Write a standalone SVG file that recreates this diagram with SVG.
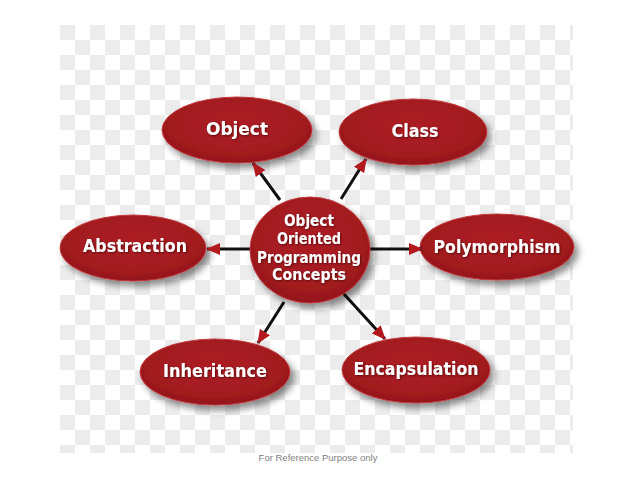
<svg xmlns="http://www.w3.org/2000/svg" width="638" height="478" viewBox="0 0 638 478">
  <defs>
    <pattern id="checker" patternUnits="userSpaceOnUse" x="60" y="25" width="30" height="30">
      <rect width="30" height="30" fill="#ffffff"/>
      <rect width="15" height="15" fill="#ececec"/>
      <rect x="15" y="15" width="15" height="15" fill="#ececec"/>
    </pattern>
    <radialGradient id="redfill" cx="0.5" cy="0.42" r="0.6">
      <stop offset="0" stop-color="#ad1f23"/>
      <stop offset="0.75" stop-color="#a21b1f"/>
      <stop offset="1" stop-color="#8e1418"/>
    </radialGradient>
    <filter id="shadow" x="-20%" y="-30%" width="150%" height="170%">
      <feDropShadow dx="4" dy="5" stdDeviation="3.5" flood-color="#000" flood-opacity="0.45"/>
    </filter>
    <filter id="tshadow" x="-10%" y="-30%" width="130%" height="170%">
      <feDropShadow dx="1" dy="1" stdDeviation="0.8" flood-color="#3a0000" flood-opacity="0.7"/>
    </filter>
    <marker id="arrow" markerUnits="userSpaceOnUse" markerWidth="14" markerHeight="12" refX="13" refY="6" orient="auto">
      <path d="M0,0 L14,6 L0,12 Z" fill="#b3181d"/>
    </marker>
  </defs>
  <style>
    .node { fill: url(#redfill); stroke: #c2383c; stroke-width: 1; filter: url(#shadow); }
    .label { font-family: "DejaVu Sans", "Liberation Sans", sans-serif; font-weight: bold; fill: #ffffff; text-anchor: middle; filter: url(#tshadow); }
    .lbl { font-size: 17px; }
    .ctr { font-size: 15px; }
    .conn line { stroke: #111111; stroke-width: 3; marker-end: url(#arrow); }
    .foot { font-family: "Liberation Sans", Arial, sans-serif; font-size: 9.5px; fill: #808080; text-anchor: middle; }
  </style>

  <rect width="638" height="478" fill="#ffffff"/>
  <rect x="60" y="25" width="513" height="428" fill="url(#checker)"/>

  <g id="node-object">
    <ellipse class="node" cx="237" cy="130" rx="75" ry="33"/>
    <text class="label lbl" x="237" y="135" textLength="62" lengthAdjust="spacingAndGlyphs">Object</text>
  </g>
  <g id="node-class">
    <ellipse class="node" cx="413" cy="132" rx="74" ry="33"/>
    <text class="label lbl" x="415" y="137" textLength="47" lengthAdjust="spacingAndGlyphs">Class</text>
  </g>
  <g id="node-abstraction">
    <ellipse class="node" cx="133" cy="248" rx="73" ry="33"/>
    <text class="label lbl" x="135" y="252" textLength="104" lengthAdjust="spacingAndGlyphs">Abstraction</text>
  </g>
  <g id="node-polymorphism">
    <ellipse class="node" cx="497" cy="247" rx="77" ry="33"/>
    <text class="label lbl" x="497" y="253" textLength="127" lengthAdjust="spacingAndGlyphs">Polymorphism</text>
  </g>
  <g id="node-inheritance">
    <ellipse class="node" cx="215" cy="372" rx="75" ry="33"/>
    <text class="label lbl" x="215" y="377" textLength="104" lengthAdjust="spacingAndGlyphs">Inheritance</text>
  </g>
  <g id="node-encapsulation">
    <ellipse class="node" cx="416" cy="370" rx="74" ry="33"/>
    <text class="label lbl" x="416" y="375" textLength="125" lengthAdjust="spacingAndGlyphs">Encapsulation</text>
  </g>

  <g id="connectors" class="conn">
    <line x1="280" y1="200" x2="253" y2="163"/>
    <line x1="341" y1="199" x2="366" y2="159"/>
    <line x1="251" y1="249" x2="207" y2="249"/>
    <line x1="369" y1="249" x2="422" y2="249"/>
    <line x1="284" y1="302" x2="258" y2="343"/>
    <line x1="343" y1="293" x2="385" y2="339"/>
  </g>

  <g id="node-center">
    <ellipse class="node" cx="310" cy="250" rx="60" ry="53"/>
    <text class="label ctr" x="309" y="226" textLength="50" lengthAdjust="spacingAndGlyphs">Object</text>
    <text class="label ctr" x="309" y="244" textLength="64" lengthAdjust="spacingAndGlyphs">Oriented</text>
    <text class="label ctr" x="309" y="263" textLength="104" lengthAdjust="spacingAndGlyphs">Programming</text>
    <text class="label ctr" x="309" y="280" textLength="74" lengthAdjust="spacingAndGlyphs">Concepts</text>
  </g>

  <text class="foot" x="318" y="461">For Reference Purpose only</text>
</svg>
